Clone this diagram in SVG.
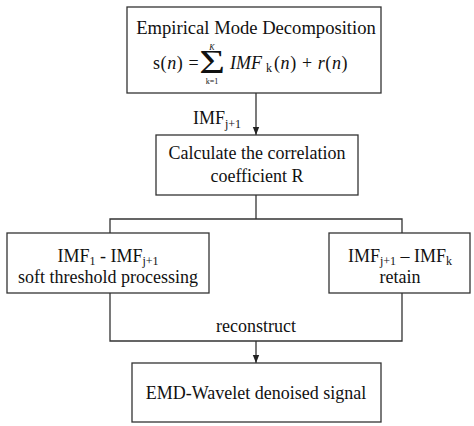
<svg xmlns="http://www.w3.org/2000/svg" width="474" height="426" viewBox="0 0 474 426">
<style>
.box{fill:#fff;stroke:#333;stroke-width:1.3}
.ln{fill:none;stroke:#333;stroke-width:1.3}
text{font-family:"Liberation Serif","Times New Roman",serif;fill:#111;font-size:18px}
.c{text-anchor:middle}
.sub{font-size:12px}
.it{font-style:italic}
</style>
<defs>
<marker id="ah" viewBox="0 0 10 10" refX="10" refY="5" markerWidth="8" markerHeight="8" markerUnits="userSpaceOnUse" orient="auto">
<path d="M0,1 L10,5 L0,9 Z" fill="#222"/>
</marker>
</defs>
<rect width="474" height="426" fill="#fff"/>
<g id="connectors">
<line class="ln" x1="256" y1="93" x2="256" y2="135" marker-end="url(#ah)"/>
<text x="193" y="124">IMF<tspan class="sub" dy="4">j+1</tspan></text>
<polyline class="ln" points="256,195 256,219"/>
<polyline class="ln" points="110,233 110,219 402,219 402,233"/>
<polyline class="ln" points="110,293 110,341 402,341 402,293"/>
<line class="ln" x1="256" y1="341" x2="256" y2="363" marker-end="url(#ah)"/>
<text x="256" y="332" class="c">reconstruct</text>
</g>
<g id="emd">
<rect class="box" x="127" y="7" width="254" height="86"/>
<text x="256" y="34" class="c" style="font-size:18.6px">Empirical Mode Decomposition</text>
<text x="153" y="69" style="letter-spacing:0.6px">s(<tspan class="it">n</tspan>) =</text>
<text x="0" y="0" class="c" transform="translate(212,73) scale(1.3,1)" style="font-size:34px">Σ</text>
<text x="212" y="50" class="c it" style="font-size:8px">K</text>
<text x="212" y="84" class="c" style="font-size:8px">k=1</text>
<text x="230" y="69"><tspan class="it">IMF</tspan><tspan class="sub" dx="4" dy="3">k</tspan><tspan dx="2" dy="-3" style="letter-spacing:0.6px">(<tspan class="it">n</tspan>) + <tspan class="it">r</tspan>(<tspan class="it">n</tspan>)</tspan></text>
</g>
<g id="corr">
<rect class="box" x="156" y="135" width="202" height="60"/>
<text x="257" y="159" class="c">Calculate the correlation</text>
<text x="257" y="182" class="c">coefficient R</text>
</g>
<g id="soft">
<rect class="box" x="7" y="233" width="202" height="60"/>
<text x="108" y="262" class="c">IMF<tspan class="sub" dy="3">1</tspan><tspan dy="-3"> - IMF</tspan><tspan class="sub" dy="3">j+1</tspan></text>
<text x="108" y="283" class="c">soft threshold processing</text>
</g>
<g id="retain">
<rect class="box" x="329" y="233" width="141" height="60"/>
<text x="400" y="262" class="c">IMF<tspan class="sub" dy="3">j+1</tspan><tspan dy="-3"> – IMF</tspan><tspan class="sub" dy="3">k</tspan></text>
<text x="400" y="283" class="c">retain</text>
</g>
<g id="result">
<rect class="box" x="132" y="363" width="249" height="59"/>
<text x="256" y="399" class="c">EMD-Wavelet denoised signal</text>
</g>
</svg>
